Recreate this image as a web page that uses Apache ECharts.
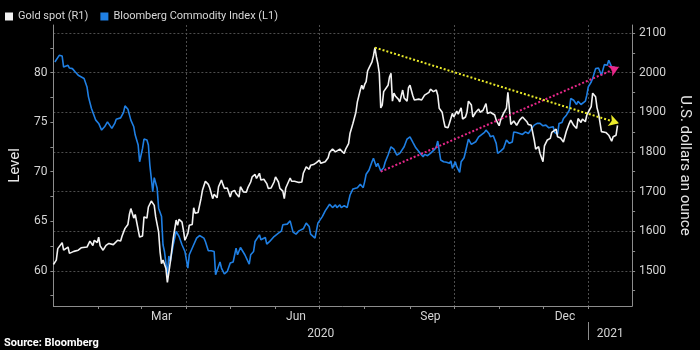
<!DOCTYPE html>
<html><head><meta charset="utf-8">
<script src="https://cdn.jsdelivr.net/npm/echarts@6/dist/echarts.min.js"></script>
<style>html,body{margin:0;padding:0;background:#000}#c{width:700px;height:350px}</style>
</head><body><div id="c"></div><script>
// ---- data ----
const bcomDates = ['2020-01-02','2020-01-05','2020-01-07','2020-01-08','2020-01-11','2020-01-12','2020-01-14','2020-01-16','2020-01-18','2020-01-19','2020-01-22','2020-01-24','2020-01-25','2020-01-27','2020-01-28','2020-01-30','2020-02-01','2020-02-03','2020-02-05','2020-02-07','2020-02-08','2020-02-10','2020-02-12','2020-02-13','2020-02-16','2020-02-18','2020-02-19','2020-02-21','2020-02-22','2020-02-23','2020-02-25','2020-02-26','2020-02-28','2020-02-29','2020-03-02','2020-03-03','2020-03-05','2020-03-06','2020-03-07','2020-03-09','2020-03-10','2020-03-12','2020-03-13','2020-03-15','2020-03-16','2020-03-17','2020-03-19','2020-03-20','2020-03-21','2020-03-23','2020-03-25','2020-03-27','2020-03-29','2020-03-31','2020-04-02','2020-04-03','2020-04-06','2020-04-08','2020-04-10','2020-04-13','2020-04-14','2020-04-16','2020-04-18','2020-04-20','2020-04-21','2020-04-24','2020-04-25','2020-04-27','2020-04-29','2020-05-01','2020-05-03','2020-05-05','2020-05-06','2020-05-08','2020-05-11','2020-05-12','2020-05-14','2020-05-15','2020-05-17','2020-05-18','2020-05-21','2020-05-22','2020-05-25','2020-05-26','2020-05-28','2020-05-29','2020-05-31','2020-06-03','2020-06-05','2020-06-06','2020-06-09','2020-06-11','2020-06-13','2020-06-15','2020-06-17','2020-06-20','2020-06-22','2020-06-24','2020-06-25','2020-06-28','2020-06-30','2020-07-03','2020-07-05','2020-07-08','2020-07-10','2020-07-12','2020-07-13','2020-07-15','2020-07-16','2020-07-18','2020-07-20','2020-07-22','2020-07-24','2020-07-27','2020-07-29','2020-07-31','2020-08-01','2020-08-02','2020-08-04','2020-08-06','2020-08-07','2020-08-09','2020-08-10','2020-08-12','2020-08-14','2020-08-15','2020-08-17','2020-08-19','2020-08-21','2020-08-23','2020-08-25','2020-08-26','2020-08-28','2020-08-30','2020-09-01','2020-09-03','2020-09-05','2020-09-06','2020-09-08','2020-09-10','2020-09-11','2020-09-13','2020-09-15','2020-09-18','2020-09-19','2020-09-20','2020-09-22','2020-09-24','2020-09-26','2020-09-28','2020-09-29','2020-09-30','2020-10-02','2020-10-03','2020-10-05','2020-10-06','2020-10-08','2020-10-09','2020-10-11','2020-10-13','2020-10-14','2020-10-16','2020-10-18','2020-10-19','2020-10-22','2020-10-23','2020-10-25','2020-10-26','2020-10-28','2020-10-30','2020-10-31','2020-11-02','2020-11-04','2020-11-06','2020-11-08','2020-11-10','2020-11-11','2020-11-13','2020-11-15','2020-11-17','2020-11-19','2020-11-21','2020-11-23','2020-11-25','2020-11-27','2020-11-29','2020-12-01','2020-12-03','2020-12-05','2020-12-06','2020-12-08','2020-12-09','2020-12-11','2020-12-12','2020-12-14','2020-12-15','2020-12-17','2020-12-19','2020-12-20','2020-12-22','2020-12-24','2020-12-25','2020-12-27','2020-12-28','2020-12-30','2020-12-31','2021-01-01','2021-01-03','2021-01-04','2021-01-06','2021-01-08','2021-01-10','2021-01-11','2021-01-12','2021-01-14','2021-01-15','2021-01-17','2021-01-18','2021-01-19'];
const bcomLevel = [81.07,81.74,81.67,80.56,80.73,80.46,80.40,80.06,79.73,79.80,79.40,78.55,77.55,76.40,76.20,75.20,74.87,74.20,74.53,75.03,74.87,74.37,74.87,75.30,75.43,75.98,76.64,76.30,76.10,75.20,74.53,73.70,72.69,71.00,72.35,73.29,73.19,72.69,70.67,67.99,69.40,68.33,66.32,65.47,62.63,61.95,59.60,61.50,60.95,62.63,63.97,63.46,62.63,61.95,60.28,61.62,62.63,63.30,63.56,63.30,62.96,62.02,62.02,61.95,59.60,60.89,60.28,59.68,59.94,60.78,60.89,62.29,61.62,62.35,61.62,61.69,60.68,61.62,61.95,62.96,63.63,63.13,63.36,62.70,62.96,63.13,63.46,63.80,64.00,64.64,64.71,65.04,63.90,63.70,64.03,64.24,64.81,64.47,63.70,63.30,64.81,65.47,66.05,66.72,66.38,66.65,66.38,66.65,66.38,66.58,66.38,67.65,68.26,68.39,68.73,68.39,69.00,69.74,70.17,71.00,71.35,70.50,70.85,70.07,70.40,70.95,71.68,72.51,72.28,71.68,71.85,72.01,72.51,73.29,73.52,72.96,72.41,72.51,71.85,71.51,71.75,71.61,71.85,72.28,72.51,73.09,71.18,71.00,70.95,70.85,71.08,70.34,71.00,70.50,69.94,71.00,71.41,72.01,73.29,72.76,72.69,73.02,73.52,73.69,73.96,74.20,73.86,73.52,73.62,72.86,71.85,72.08,72.35,73.19,72.86,73.00,74.00,73.96,73.86,73.76,74.02,73.86,74.30,74.70,74.87,74.87,74.63,74.70,74.43,74.30,74.53,73.96,73.76,74.87,74.97,75.37,75.70,76.20,77.38,77.21,76.78,77.11,76.78,76.71,77.11,77.72,78.55,79.05,79.40,80.40,80.46,79.73,79.66,80.80,80.73,81.24,80.56,80.40,80.56];

const goldDates = ['2020-01-01','2020-01-03','2020-01-04','2020-01-07','2020-01-08','2020-01-11','2020-01-12','2020-01-15','2020-01-16','2020-01-18','2020-01-20','2020-01-21','2020-01-24','2020-01-26','2020-01-28','2020-01-29','2020-01-31','2020-02-01','2020-02-02','2020-02-04','2020-02-06','2020-02-08','2020-02-11','2020-02-12','2020-02-14','2020-02-16','2020-02-17','2020-02-19','2020-02-21','2020-02-22','2020-02-23','2020-02-25','2020-02-26','2020-02-27','2020-02-29','2020-03-02','2020-03-03','2020-03-05','2020-03-06','2020-03-08','2020-03-09','2020-03-10','2020-03-11','2020-03-13','2020-03-14','2020-03-15','2020-03-16','2020-03-18','2020-03-19','2020-03-21','2020-03-23','2020-03-25','2020-03-26','2020-03-27','2020-03-29','2020-03-30','2020-03-31','2020-04-02','2020-04-03','2020-04-05','2020-04-06','2020-04-07','2020-04-09','2020-04-11','2020-04-12','2020-04-14','2020-04-16','2020-04-17','2020-04-19','2020-04-20','2020-04-22','2020-04-23','2020-04-25','2020-04-26','2020-04-27','2020-04-29','2020-05-01','2020-05-02','2020-05-04','2020-05-05','2020-05-07','2020-05-08','2020-05-10','2020-05-12','2020-05-13','2020-05-15','2020-05-16','2020-05-18','2020-05-19','2020-05-21','2020-05-22','2020-05-24','2020-05-26','2020-05-27','2020-05-29','2020-05-31','2020-06-01','2020-06-03','2020-06-04','2020-06-06','2020-06-07','2020-06-08','2020-06-11','2020-06-12','2020-06-14','2020-06-17','2020-06-19','2020-06-20','2020-06-22','2020-06-24','2020-06-25','2020-06-27','2020-06-29','2020-07-01','2020-07-02','2020-07-05','2020-07-07','2020-07-08','2020-07-10','2020-07-12','2020-07-13','2020-07-15','2020-07-16','2020-07-18','2020-07-19','2020-07-21','2020-07-22','2020-07-24','2020-07-25','2020-07-26','2020-07-27','2020-07-29','2020-07-30','2020-07-31','2020-08-01','2020-08-02','2020-08-03','2020-08-04','2020-08-06','2020-08-07','2020-08-08','2020-08-09','2020-08-10','2020-08-11','2020-08-12','2020-08-13','2020-08-14','2020-08-15','2020-08-17','2020-08-18','2020-08-19','2020-08-20','2020-08-21','2020-08-22','2020-08-24','2020-08-25','2020-08-27','2020-08-28','2020-08-30','2020-08-31','2020-09-01','2020-09-03','2020-09-04','2020-09-07','2020-09-09','2020-09-11','2020-09-12','2020-09-14','2020-09-15','2020-09-17','2020-09-19','2020-09-20','2020-09-21','2020-09-23','2020-09-24','2020-09-25','2020-09-26','2020-09-27','2020-09-28','2020-09-30','2020-10-01','2020-10-03','2020-10-04','2020-10-06','2020-10-07','2020-10-09','2020-10-10','2020-10-11','2020-10-13','2020-10-14','2020-10-16','2020-10-18','2020-10-19','2020-10-21','2020-10-23','2020-10-24','2020-10-26','2020-10-27','2020-10-29','2020-10-30','2020-11-01','2020-11-02','2020-11-04','2020-11-06','2020-11-07','2020-11-08','2020-11-09','2020-11-11','2020-11-13','2020-11-15','2020-11-17','2020-11-18','2020-11-20','2020-11-21','2020-11-23','2020-11-25','2020-11-26','2020-11-28','2020-11-29','2020-11-30','2020-12-01','2020-12-02','2020-12-04','2020-12-06','2020-12-07','2020-12-08','2020-12-10','2020-12-11','2020-12-13','2020-12-14','2020-12-15','2020-12-17','2020-12-19','2020-12-20','2020-12-22','2020-12-24','2020-12-25','2020-12-27','2020-12-28','2020-12-30','2020-12-31','2021-01-01','2021-01-03','2021-01-04','2021-01-06','2021-01-07','2021-01-08','2021-01-10','2021-01-11','2021-01-13','2021-01-15','2021-01-16','2021-01-17','2021-01-18','2021-01-20','2021-01-21'];
const goldPrice = [1516,1527,1556,1571,1552,1560,1544,1549,1554,1552,1558,1554,1560,1575,1564,1577,1571,1585,1563,1552,1564,1569,1566,1563,1577,1575,1588,1607,1617,1642,1657,1633,1642,1638,1585,1588,1636,1633,1661,1676,1678,1665,1636,1598,1548,1518,1527,1506,1471,1522,1581,1628,1615,1630,1623,1602,1577,1594,1615,1617,1659,1645,1647,1682,1703,1726,1718,1709,1682,1693,1684,1712,1729,1718,1708,1709,1686,1699,1703,1695,1686,1712,1699,1698,1709,1724,1737,1743,1733,1746,1729,1731,1720,1708,1709,1724,1737,1724,1708,1701,1682,1709,1734,1726,1726,1723,1724,1746,1762,1756,1766,1768,1773,1779,1771,1775,1785,1799,1807,1800,1799,1807,1809,1796,1807,1821,1847,1872,1886,1900,1926,1956,1968,1958,1970,1977,2004,2012,2027,2042,2063,2040,2023,1998,1911,1918,1952,1948,1968,1989,1998,1928,1948,1941,1933,1926,1956,1936,1928,1962,1968,1941,1931,1933,1931,1943,1941,1950,1958,1952,1956,1943,1910,1900,1880,1863,1867,1861,1872,1897,1888,1903,1895,1911,1883,1888,1900,1928,1918,1888,1900,1908,1900,1905,1922,1897,1900,1900,1893,1880,1866,1880,1897,1910,1950,1952,1869,1878,1867,1880,1888,1883,1876,1869,1867,1830,1807,1813,1796,1794,1775,1815,1830,1834,1849,1852,1857,1838,1835,1838,1825,1852,1872,1880,1867,1859,1884,1874,1883,1876,1893,1900,1914,1948,1939,1911,1897,1851,1847,1849,1842,1844,1827,1838,1842,1867];

// trend annotations (start, end)
const goldTrend = [['2020-08-08', 2063], ['2021-01-22', 1872]];
const bcomTrend = [['2020-08-12', 70.0], ['2021-01-22', 80.56]];

// axes
const xRange = ['2020-01-01', '2021-01-31'];
const monthTickDates = ['2020-02-01','2020-03-01','2020-04-01','2020-05-01','2020-06-01','2020-07-01','2020-08-01','2020-09-01','2020-10-01','2020-11-01','2020-12-01','2021-01-01'];
const gridLineDates = ['2020-04-01','2020-07-01','2020-10-01','2021-01-01'];
const monthLabelDates = ['2020-03-15','2020-06-15','2020-09-15','2020-12-16'];
const monthLabels = ['Mar','Jun','Sep','Dec'];
const yearLabelDates = ['2020-07-02','2021-01-16'];
const yearLabels = ['2020','2021'];
const yearSeparatorDates = ['2021-01-01'];
const leftRange = [56.45, 84.8];
const leftLabels = [60, 65, 70, 75, 80];
const leftTicks = [57.5, 60, 62.5, 65, 67.5, 70, 72.5, 75, 77.5, 80, 82.5];
const rightRange = [1411.25, 2120];
const rightLabels = [1500, 1600, 1700, 1800, 1900, 2000, 2100];
const rightTicks = [1450, 1500, 1550, 1600, 1650, 1700, 1750, 1800, 1850, 1900, 1950, 2000, 2050, 2100];

// ---- chart ----
const P = s => echarts.number.parseDate(s).getTime();
const pick = (dates, labels) => v => {
  let best = 0, bd = Infinity;
  dates.forEach((d, i) => { const dd = Math.abs(P(d) - v); if (dd < bd) { bd = dd; best = i; } });
  return labels[best];
};
const FONT = 'Roboto';
const axisGray = '#8c8c8c';
const gridGray = '#4d4d4d';
const labelColor = '#d4d4d4';
const BLUE = '#1f7fe3';
const WHITE = '#f2f2f2';

const xBase = { type: 'value', min: P(xRange[0]), max: P(xRange[1]), position: 'bottom' };

const chart = echarts.init(document.getElementById('c'));
chart.setOption({
  backgroundColor: '#000',
  animation: false,
  textStyle: { fontFamily: FONT },
  grid: { left: 40, right: 54, top: 25, bottom: 44 },
  title: { text: 'Source: Bloomberg', left: 4, bottom: 1, padding: 0,
    textStyle: { color: '#ffffff', fontSize: 11, fontWeight: 'bold', fontFamily: FONT } },
  legend: {
    left: 5, top: 11, padding: 0, itemWidth: 8, itemHeight: 8, itemGap: 12, icon: 'rect',
    textStyle: { color: '#d8d8d8', fontSize: 11, fontFamily: FONT },
    data: ['Gold spot (R1)', 'Bloomberg Commodity Index (L1)']
  },
  xAxis: [
    Object.assign({}, xBase, {
      axisLine: { show: true, lineStyle: { color: axisGray } },
      axisTick: { show: true, customValues: monthTickDates.map(P), length: 3, lineStyle: { color: axisGray } },
      axisLabel: { customValues: monthLabelDates.map(P), formatter: pick(monthLabelDates, monthLabels),
        color: labelColor, fontSize: 12, margin: 5, fontFamily: FONT },
      splitLine: { show: false } }),
    Object.assign({}, xBase, { offset: 16,
      axisLine: { show: false },
      axisTick: { show: true, customValues: yearSeparatorDates.map(P), length: 18, lineStyle: { color: axisGray } },
      axisLabel: { customValues: yearLabelDates.map(P), formatter: pick(yearLabelDates, yearLabels),
        color: labelColor, fontSize: 12, margin: 6, fontFamily: FONT },
      splitLine: { show: false } }),
    Object.assign({}, xBase, {
      axisLine: { show: false }, axisLabel: { show: false },
      axisTick: { show: false, customValues: gridLineDates.map(P) },
      splitLine: { show: true, lineStyle: { color: gridGray, type: [2, 2], width: 1 } } })
  ],
  yAxis: [
    { type: 'value', position: 'left', min: leftRange[0], max: leftRange[1],
      name: 'Level', nameLocation: 'middle', nameGap: 24,
      nameTextStyle: { color: '#e6e6e6', fontSize: 15, fontFamily: FONT },
      axisLine: { show: true, lineStyle: { color: axisGray } },
      axisTick: { show: true, customValues: leftTicks, length: 3, lineStyle: { color: axisGray } },
      axisLabel: { customValues: leftLabels, formatter: v => String(v),
        color: labelColor, fontSize: 12, margin: 6, fontFamily: FONT },
      splitLine: { show: false } },
    { type: 'value', position: 'right', min: rightRange[0], max: rightRange[1],
      name: 'U.S. dollars an ounce', nameLocation: 'middle', nameGap: 39, nameRotate: -90,
      nameTextStyle: { color: '#e6e6e6', fontSize: 15, fontFamily: FONT },
      axisLine: { show: true, lineStyle: { color: axisGray } },
      axisTick: { show: true, customValues: rightTicks, length: 3, lineStyle: { color: axisGray } },
      axisLabel: { customValues: rightLabels, formatter: v => String(v),
        color: labelColor, fontSize: 12, margin: 7, fontFamily: FONT },
      splitLine: { show: false } },
    { type: 'value', position: 'right', min: rightRange[0], max: rightRange[1],
      axisLine: { show: false }, axisLabel: { show: false },
      axisTick: { show: false, customValues: rightLabels },
      splitLine: { show: true, lineStyle: { color: gridGray, type: [2, 2], width: 1 } } }
  ],
  series: [
    { name: 'Bloomberg Commodity Index (L1)', type: 'line', xAxisIndex: 0, yAxisIndex: 0,
      showSymbol: false, symbol: 'none', color: BLUE, z: 2,
      lineStyle: { color: BLUE, width: 1.6 },
      data: bcomDates.map((d, i) => [P(d), bcomLevel[i]]),
      markLine: { silent: true, symbol: ['none', 'arrow'], symbolSize: [9, 10],
        label: { show: false }, emphasis: { disabled: true },
        lineStyle: { color: '#e8288a', type: [2, 2], width: 2 },
        data: [[{ coord: [P(bcomTrend[0][0]), bcomTrend[0][1]] }, { coord: [P(bcomTrend[1][0]), bcomTrend[1][1]] }]] } },
    { name: 'Gold spot (R1)', type: 'line', xAxisIndex: 0, yAxisIndex: 1,
      showSymbol: false, symbol: 'none', color: WHITE, z: 3,
      lineStyle: { color: WHITE, width: 1.6 },
      data: goldDates.map((d, i) => [P(d), goldPrice[i]]),
      markLine: { silent: true, symbol: ['none', 'arrow'], symbolSize: [9, 10],
        label: { show: false }, emphasis: { disabled: true },
        lineStyle: { color: '#eaea2a', type: [2, 2], width: 2 },
        data: [[{ coord: [P(goldTrend[0][0]), goldTrend[0][1]] }, { coord: [P(goldTrend[1][0]), goldTrend[1][1]] }]] } }
  ]
});
</script></body></html>
